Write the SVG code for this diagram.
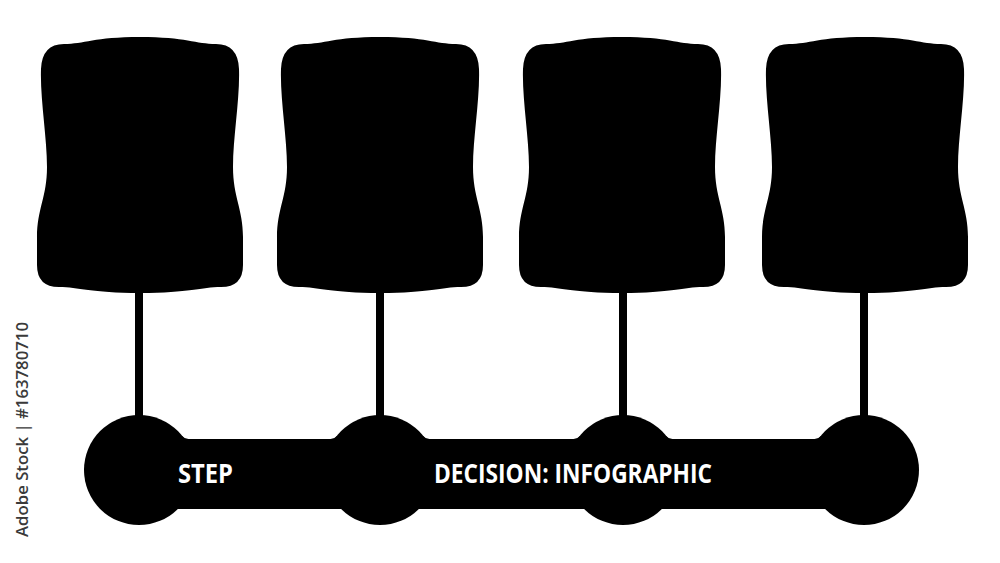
<svg xmlns="http://www.w3.org/2000/svg" xmlns:xlink="http://www.w3.org/1999/xlink" width="1000" height="563" viewBox="0 0 1000 563">
<style>
.shape{fill:#000}
.lbl{font-family:"Open Sans","Liberation Sans",sans-serif;font-weight:700;font-size:26px;fill:#fff}
.wm{font-family:"Open Sans","Liberation Sans",sans-serif;font-weight:600;font-size:16px;fill:#3a3a3a}
</style>
<defs>
<path id="blob" d="M27,7 C47,7 57,0 103,0 C149,0 159,7 179,7 Q201,7 202,32 C203,62 196,100 196,130 C196,160 206,172 206,200 L206,228 Q206,250 184,250 C164,250 153,256 103,256 C53,256 42,250 22,250 Q0,250 0,228 L0,200 C0,172 10,160 10,130 C10,100 3,62 4,32 Q5,7 27,7 Z"/>
<path id="fil" d="M49.5,-31 A8,8 0 0 1 43.2,-34 L40,-28 Z"/>
</defs>
<rect width="1000" height="563" fill="#fff"/>
<g id="connectors" class="shape">
<rect x="135" y="290" width="8" height="135"/>
<rect x="376" y="290" width="8" height="135"/>
<rect x="619" y="290" width="8" height="135"/>
<rect x="860" y="290" width="8" height="135"/>
<rect x="139" y="439" width="725" height="70"/>
</g>
<g id="node1"><use xlink:href="#blob" class="shape" transform="translate(37,37)"/></g>
<g id="node2"><use xlink:href="#blob" class="shape" transform="translate(277,37)"/></g>
<g id="node3"><use xlink:href="#blob" class="shape" transform="translate(519,37)"/></g>
<g id="node4"><use xlink:href="#blob" class="shape" transform="translate(762,37)"/></g>
<g id="dot1" class="shape"><circle cx="139" cy="470" r="55"/>
<use xlink:href="#fil" transform="translate(139,470)"/><use xlink:href="#fil" transform="translate(139,470) scale(1,-1)"/></g>
<g id="dot2" class="shape"><circle cx="380" cy="470" r="55"/>
<use xlink:href="#fil" transform="translate(380,470)"/><use xlink:href="#fil" transform="translate(380,470) scale(1,-1)"/>
<use xlink:href="#fil" transform="translate(380,470) scale(-1,1)"/><use xlink:href="#fil" transform="translate(380,470) scale(-1,-1)"/></g>
<g id="dot3" class="shape"><circle cx="623" cy="470" r="55"/>
<use xlink:href="#fil" transform="translate(623,470)"/><use xlink:href="#fil" transform="translate(623,470) scale(1,-1)"/>
<use xlink:href="#fil" transform="translate(623,470) scale(-1,1)"/><use xlink:href="#fil" transform="translate(623,470) scale(-1,-1)"/></g>
<g id="dot4" class="shape"><circle cx="864" cy="470" r="55"/>
<use xlink:href="#fil" transform="translate(864,470) scale(-1,1)"/><use xlink:href="#fil" transform="translate(864,470) scale(-1,-1)"/></g>
<g id="labels">
<text class="lbl" x="178" y="483" textLength="55" lengthAdjust="spacingAndGlyphs">STEP</text>
<text class="lbl" x="434" y="483" textLength="278" lengthAdjust="spacingAndGlyphs">DECISION: INFOGRAPHIC</text>
</g>
<text class="wm" transform="translate(28,537) rotate(-90)" x="0" y="0" textLength="215" lengthAdjust="spacingAndGlyphs">Adobe Stock | #163780710</text>
</svg>
